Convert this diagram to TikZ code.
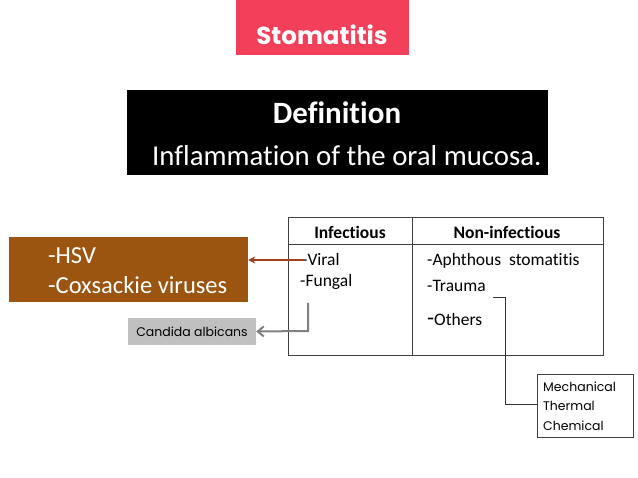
\documentclass[tikz,border=0pt]{standalone}
\usepackage{fontspec}
\setmainfont{Carlito}[Ligatures=NoCommon]
\newfontfamily\geo{Poppins}
\usetikzlibrary{arrows.meta}
\definecolor{titlered}{HTML}{F2405B}
\definecolor{brownbox}{HTML}{9C5511}
\definecolor{brownarrow}{HTML}{A0421E}
\definecolor{graybox}{HTML}{C0C0C0}
\definecolor{grayarrow}{HTML}{808080}
\begin{document}
\begin{tikzpicture}[x=1pt,y=-1pt,
  txt/.style={inner sep=0pt,anchor=base west},
  cell/.style={inner sep=0pt,anchor=base west,font=\fontsize{17.5}{20}\selectfont},
  tbl/.style={draw=black!75,line width=0.8pt}]
\useasboundingbox (0,0) rectangle (638,478);
% title
\fill[titlered] (236,0) rectangle (409,55);
\node[inner sep=0pt,text=white,font=\geo\bfseries\fontsize{24.5}{28}\selectfont] (title) at (322,35) {Stomatitis};
% definition box
\fill[black] (127,90) rectangle (548,175);
\node[inner sep=0pt,text=white,font=\bfseries\fontsize{31}{34}\selectfont] (def) at (337,113) {Definition};
\node[txt,text=white,font=\fontsize{28.8}{32}\selectfont] (infl) at (152,166) {Inflammation of the oral mucosa.};
% table
\draw[tbl] (288,217) rectangle (603,355);
\draw[tbl] (412,217) -- (412,355);
\draw[tbl] (288,244) -- (603,244);
\node[inner sep=0pt,font=\bfseries\fontsize{17.5}{20}\selectfont] (hinf) at (350,232) {Infectious};
\node[inner sep=0pt,font=\bfseries\fontsize{17.5}{20}\selectfont] (hnon) at (507,232) {Non-infectious};
\node[cell] (viral) at (302,266) {-Viral};
\node[cell] (fungal) at (300,287) {-Fungal};
\node[cell] (aph) at (427,266) {-Aphthous\ \ stomatitis};
\node[cell] (trauma) at (427,292) {-Trauma};
\node[cell] (others) at (427,326) {\fontsize{23}{23}\selectfont-\fontsize{17.5}{20}\selectfont Others};
% brown box
\node[fill=brownbox,minimum width=239pt,minimum height=65pt,inner sep=0pt] (hsv) at (128.5,269.5) {};
\node[txt,text=white,font=\fontsize{24.5}{28}\selectfont] (hsvt) at (48,264) {-HSV};
\node[txt,text=white,font=\fontsize{24.5}{28}\selectfont] (cox) at (48,294) {-Coxsackie viruses};
% candida box
\node[fill=graybox,minimum width=128pt,minimum height=27pt,inner sep=0pt,font=\geo\fontsize{12.5}{14}\selectfont] (cand) at (192,331.5) {Candida albicans};
% mechanical box
\node[draw=black!75,line width=0.8pt,minimum width=96pt,minimum height=63pt,inner sep=0pt] (mech) at (585,405.5) {};
\node[txt,font=\geo\fontsize{12.5}{15}\selectfont] (m1) at (543,392) {Mechanical};
\node[txt,font=\geo\fontsize{12.5}{15}\selectfont] (m2) at (543,411) {Thermal};
\node[txt,font=\geo\fontsize{12.5}{15}\selectfont] (m3) at (543,431) {Chemical};
% connectors
\coordinate (va) at (303,260);
\draw[brownarrow,line width=1.3pt,-{Stealth[length=7pt,width=7pt]}] (va) -- (hsv.east |- va);
\coordinate (fa) at (308,303);
\draw[grayarrow,line width=2pt,-{Straight Barb[length=6pt,width=10pt]}] (fa) -- (308,331) -- (cand.east);
\coordinate (ta) at (493,297);
\draw[black!80,line width=0.6pt] (ta) -- (505,297) -- (505,404) -- (mech.west |- 0,404);
\end{tikzpicture}
\end{document}
